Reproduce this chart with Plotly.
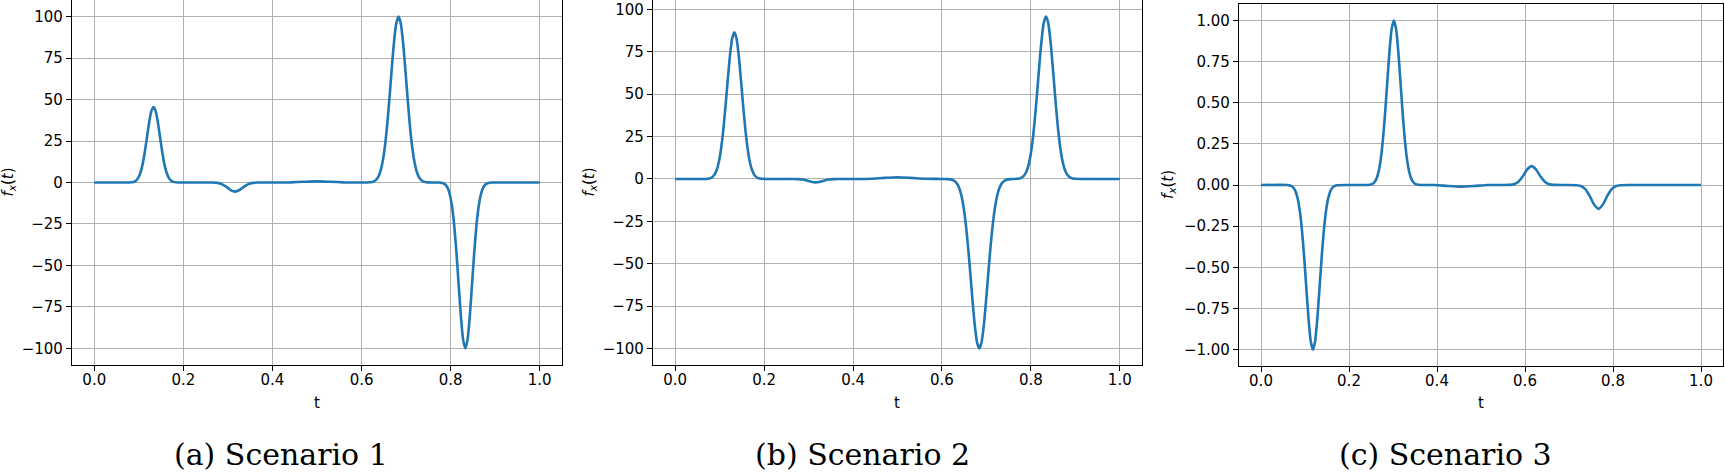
import plotly.graph_objects as go

### values
# scenario 1
t_a = [0.0, 0.07, 0.078, 0.083, 0.088, 0.093, 0.098, 0.103, 0.108, 0.113, 0.118, 0.123, 0.128,
       0.133, 0.138, 0.143, 0.148, 0.153, 0.158, 0.163, 0.168, 0.173, 0.178, 0.183, 0.188,
       0.2, 0.26, 0.266, 0.276, 0.286, 0.296, 0.306, 0.316, 0.326, 0.336, 0.346, 0.356, 0.366,
       0.38, 0.41, 0.44, 0.47, 0.5, 0.53, 0.56, 0.59,
       0.613, 0.618, 0.623, 0.628, 0.633, 0.638, 0.643, 0.648, 0.653, 0.658, 0.663, 0.668, 0.673, 0.678,
       0.683, 0.688, 0.693, 0.698, 0.703, 0.708, 0.713, 0.718, 0.723, 0.728, 0.733, 0.738, 0.743, 0.748,
       0.758, 0.773, 0.778, 0.783, 0.788, 0.793, 0.798, 0.803, 0.808, 0.813, 0.818, 0.823, 0.828,
       0.833, 0.838, 0.843, 0.848, 0.853, 0.858, 0.863, 0.868, 0.873, 0.878, 0.883, 0.888, 0.893,
       0.92, 1.0]
fx_a = [0.0, 0.0, 0.03, 0.12, 0.37, 1.0, 2.5, 5.4, 10.3, 17.6, 26.7, 35.9, 42.9,
        45.5, 42.9, 35.9, 26.7, 17.6, 10.3, 5.4, 2.5, 1.0, 0.37, 0.12, 0.03,
        0.0, 0.0, -0.04, -0.24, -0.95, -2.52, -4.53, -5.5, -4.53, -2.52, -0.95, -0.24, -0.04,
        0.0, 0.0, 0.1, 0.43, 0.7, 0.43, 0.1, 0.0,
        0.0, 0.1, 0.28, 0.72, 1.69, 3.67, 7.34, 13.5, 23.0, 36.0, 52.0, 69.3, 84.9, 96.0,
        100.0, 96.0, 84.9, 69.3, 52.0, 36.0, 23.0, 13.5, 7.34, 3.67, 1.69, 0.72, 0.28, 0.1,
        0.0, -0.04, -0.14, -0.45, -1.25, -3.13, -7.06, -14.3, -25.8, -42.1, -61.4, -80.5, -94.7,
        -100.0, -94.7, -80.5, -61.4, -42.1, -25.8, -14.3, -7.06, -3.13, -1.25, -0.45, -0.14, -0.04,
        0.0, 0.0]

# scenario 2
t_b = [0.0, 0.07, 0.073, 0.078, 0.083, 0.088, 0.093, 0.098, 0.103, 0.108, 0.113, 0.118, 0.123, 0.128,
       0.133, 0.138, 0.143, 0.148, 0.153, 0.158, 0.163, 0.168, 0.173, 0.178, 0.183, 0.188, 0.193,
       0.205, 0.26, 0.266, 0.276, 0.286, 0.296, 0.306, 0.316, 0.326, 0.336, 0.346, 0.356, 0.366,
       0.38, 0.41, 0.44, 0.47, 0.5, 0.53, 0.56, 0.59, 0.605,
       0.614, 0.619, 0.624, 0.629, 0.634, 0.639, 0.644, 0.649, 0.654, 0.659, 0.664, 0.669, 0.674, 0.679,
       0.684, 0.689, 0.694, 0.699, 0.704, 0.709, 0.714, 0.719, 0.724, 0.729, 0.734, 0.739, 0.744, 0.749, 0.754,
       0.769, 0.774, 0.779, 0.784, 0.789, 0.794, 0.799, 0.804, 0.809, 0.814, 0.819, 0.824, 0.829,
       0.834, 0.839, 0.844, 0.849, 0.854, 0.859, 0.864, 0.869, 0.874, 0.879, 0.884, 0.889, 0.894, 0.899,
       0.92, 1.0]
fx_b = [0.0, 0.0, 0.15, 0.41, 1.03, 2.4, 5.1, 9.9, 17.6, 28.6, 42.6, 58.0, 72.5, 82.8,
        86.5, 82.8, 72.5, 58.0, 42.6, 28.6, 17.6, 9.9, 5.1, 2.4, 1.03, 0.41, 0.15,
        0.0, 0.0, -0.015, -0.09, -0.34, -0.92, -1.65, -2.0, -1.65, -0.92, -0.34, -0.09, -0.015,
        0.0, 0.0, 0.14, 0.61, 1.0, 0.61, 0.14, 0.01, 0.0,
        -0.09, -0.24, -0.58, -1.32, -2.8, -5.53, -10.1, -17.3, -27.6, -40.9, -56.4, -72.5, -86.7, -96.5,
        -100.0, -96.5, -86.7, -72.5, -56.4, -40.9, -27.6, -17.3, -10.1, -5.53, -2.8, -1.32, -0.58, -0.24, -0.09,
        0.11, 0.31, 0.77, 1.77, 3.78, 7.45, 13.6, 22.8, 35.4, 50.6, 66.9, 81.6, 92.1,
        95.8, 92.1, 81.6, 66.9, 50.6, 35.4, 22.8, 13.6, 7.45, 3.78, 1.77, 0.77, 0.31, 0.11,
        0.0, 0.0]

# scenario 3
t_c = [0.0, 0.06, 0.063, 0.068, 0.073, 0.078, 0.083, 0.088, 0.093, 0.098, 0.103, 0.108, 0.113,
       0.118, 0.123, 0.128, 0.133, 0.138, 0.143, 0.148, 0.153, 0.158, 0.163, 0.168, 0.173,
       0.19, 0.24, 0.247, 0.252, 0.257, 0.262, 0.267, 0.272, 0.277, 0.282, 0.287, 0.292, 0.297,
       0.302, 0.307, 0.312, 0.317, 0.322, 0.327, 0.332, 0.337, 0.342, 0.347, 0.352, 0.357,
       0.38, 0.395, 0.425, 0.455, 0.485, 0.515, 0.55,
       0.565, 0.575, 0.585, 0.595, 0.605, 0.615, 0.625, 0.635, 0.645, 0.655, 0.665, 0.69,
       0.717, 0.727, 0.737, 0.747, 0.757, 0.767, 0.777, 0.787, 0.797, 0.807, 0.817, 0.84, 1.0]
fx_c = [0.0, 0.0, -0.0018, -0.0055, -0.0148, -0.0358, -0.0782, -0.154, -0.272, -0.435, -0.626, -0.812, -0.949,
        -1.0, -0.949, -0.812, -0.626, -0.435, -0.272, -0.154, -0.0782, -0.0358, -0.0148, -0.0055, -0.0018,
        0.0, 0.0, 0.0018, 0.0055, 0.0148, 0.0358, 0.0782, 0.154, 0.272, 0.435, 0.626, 0.812, 0.949,
        1.0, 0.949, 0.812, 0.626, 0.435, 0.272, 0.154, 0.0782, 0.0358, 0.0148, 0.0055, 0.0018,
        0.0, 0.0, -0.006, -0.01, -0.006, 0.0, 0.0,
        0.0009, 0.0051, 0.0198, 0.0527, 0.0946, 0.115, 0.0946, 0.0527, 0.0198, 0.0051, 0.0009, 0.0,
        -0.0011, -0.0064, -0.0249, -0.0664, -0.119, -0.145, -0.119, -0.0664, -0.0249, -0.0064, -0.0011, 0.0, 0.0]

### tick labels
x_ticks = [0.0, 0.2, 0.4, 0.6, 0.8, 1.0]
x_tick_text = ["0.0", "0.2", "0.4", "0.6", "0.8", "1.0"]
y_ticks_ab = [100, 75, 50, 25, 0, -25, -50, -75, -100]
y_tick_text_ab = ["100", "75", "50", "25", "0", "\u221225", "\u221250", "\u221275", "\u2212100"]
y_ticks_c = [1.0, 0.75, 0.5, 0.25, 0.0, -0.25, -0.5, -0.75, -1.0]
y_tick_text_c = ["1.00", "0.75", "0.50", "0.25", "0.00", "\u22120.25", "\u22120.50", "\u22120.75", "\u22121.00"]
captions = ["(a) Scenario 1", "(b) Scenario 2", "(c) Scenario 3"]

W, H = 1725, 474
BLUE = "#1f77b4"

# pixel boxes of the three axes (left, right, top, bottom)
boxes = [(72, 562, 0, 365), (653, 1142, 0, 365), (1239, 1723, 4, 366)]
y_ranges = [[-110, 110], [-109.8, 105.6], [-1.1, 1.1]]
y_ticksets = [(y_ticks_ab, y_tick_text_ab), (y_ticks_ab, y_tick_text_ab), (y_ticks_c, y_tick_text_c)]
caption_x = [281, 862, 1445]

fig = go.Figure()
series = [(t_a, fx_a), (t_b, fx_b), (t_c, fx_c)]
for i, (t, fx) in enumerate(series):
    suffix = "" if i == 0 else str(i + 1)
    fig.add_trace(go.Scatter(x=t, y=fx, mode="lines",
                             line=dict(color=BLUE, width=2.6, shape="spline", smoothing=0.6),
                             xaxis="x" + suffix, yaxis="y" + suffix, showlegend=False,
                             hoverinfo="skip"))

axis_style = dict(showline=True, mirror=True, linecolor="black", linewidth=1.2,
                  ticks="outside", ticklen=5, tickwidth=1.2, tickcolor="black",
                  showgrid=True, gridcolor="#b0b0b0", gridwidth=1.1, zeroline=False,
                  tickfont=dict(family="DejaVu Sans", size=15, color="black"))

annotations = []
for i, (l, r, top, bot) in enumerate(boxes):
    suffix = "" if i == 0 else str(i + 1)
    xd = [l / W, r / W]
    yd = [(H - bot) / H, (H - top) / H]
    fig.layout["xaxis" + suffix] = dict(domain=xd, range=[-0.05, 1.05], anchor="y" + suffix,
                                         tickvals=x_ticks, ticktext=x_tick_text,
                                         ticklabelstandoff=-4, **axis_style)
    fig.layout["yaxis" + suffix] = dict(domain=yd, range=y_ranges[i], anchor="x" + suffix,
                                         tickvals=y_ticksets[i][0], ticktext=y_ticksets[i][1],
                                         **axis_style)
    ylab_x = (l - 64) if i < 2 else (l - 71)
    annotations.append(dict(text="<i>f</i><sub><i>x</i></sub>(<i>t</i>)", textangle=-90,
                            x=ylab_x / W, y=(H - (top + bot) / 2) / H, xref="paper", yref="paper",
                            xanchor="center", yanchor="middle", showarrow=False,
                            font=dict(family="DejaVu Sans", size=15, color="black")))
    annotations.append(dict(text="t", x=(l + r) / 2 / W, y=(H - 403) / H, xref="paper", yref="paper",
                            xanchor="center", yanchor="middle", showarrow=False,
                            font=dict(family="DejaVu Sans", size=15, color="black")))
    annotations.append(dict(text=captions[i], x=caption_x[i] / W, y=(H - 454) / H,
                            xref="paper", yref="paper", xanchor="center", yanchor="middle",
                            showarrow=False,
                            font=dict(family="DejaVu Serif", size=30, color="black")))

fig.update_layout(width=W, height=H, margin=dict(l=0, r=0, t=0, b=0),
                  paper_bgcolor="white", plot_bgcolor="white",
                  annotations=annotations)

# the page body has a default 8px margin; drop it so the figure sits at the corner
fig.write_html("out.html", config={"displayModeBar": False},
               post_script="document.body.style.margin = '0px';")
